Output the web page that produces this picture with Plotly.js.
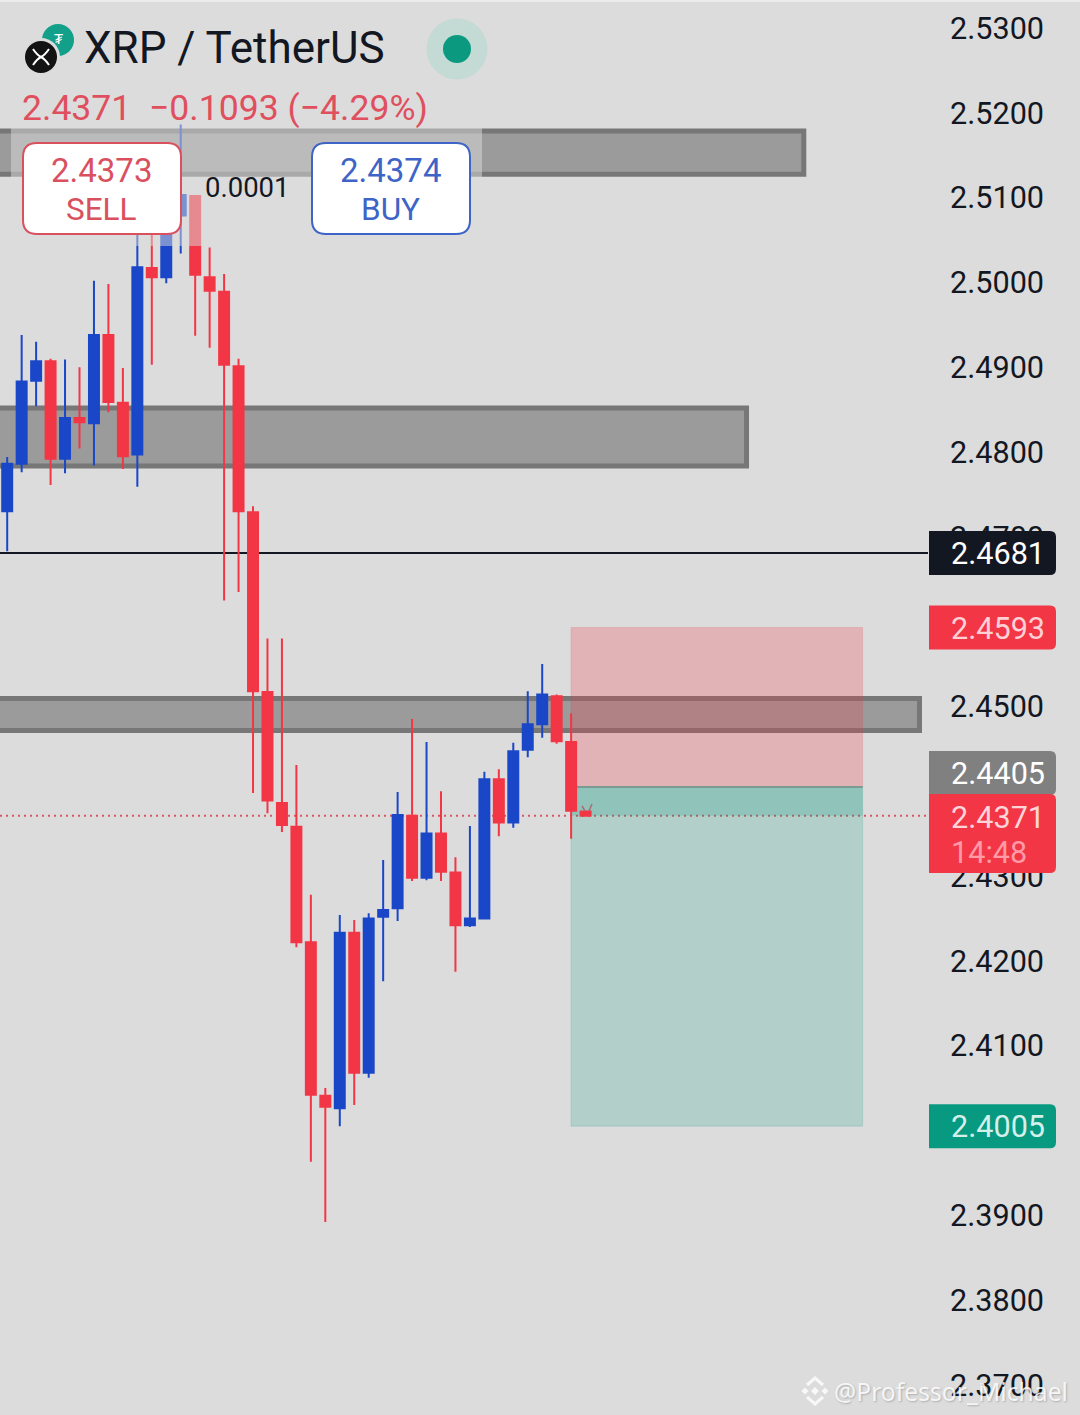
<!DOCTYPE html>
<html>
<head>
<meta charset="utf-8">
<script src="https://cdn.plot.ly/plotly-3.0.1.min.js"></script>
<style>html,body{margin:0;padding:0;background:#dcdcdc;overflow:hidden}</style>
</head>
<body>
<div id="chart" style="width:1080px;height:1415px"></div>
<script>
// ---- candle values ----
const openValues = [2.4730,2.4786,2.4884,2.4907,2.4792,2.4840,2.4834,2.4938,2.4858,2.4797,2.5017,2.5006,2.5079,2.5102,2.5006,2.4989,2.4901,2.4729,2.4517,2.4386,2.4358,2.4222,2.4041,2.4026,2.4233,2.4068,2.4252,2.4262,2.4371,2.4298,2.4350,2.4304,2.4242,2.4250,2.4414,2.4363,2.4449,2.4479,2.4512,2.4458,2.4376];
const closeValues = [2.4786,2.4883,2.4907,2.4792,2.4840,2.4835,2.4938,2.4859,2.4795,2.5018,2.5006,2.5079,2.5103,2.5009,2.4990,2.4903,2.4730,2.4518,2.4389,2.4360,2.4222,2.4042,2.4028,2.4233,2.4068,2.4250,2.4260,2.4372,2.4298,2.4350,2.4305,2.4242,2.4250,2.4414,2.4363,2.4447,2.4479,2.4514,2.4459,2.4377,2.4371];
const highValues  = [2.4794,2.4938,2.4930,2.4910,2.4909,2.4900,2.5002,2.4998,2.4899,2.5060,2.5060,2.5085,2.5186,2.5103,2.5041,2.5010,2.4910,2.4736,2.4580,2.4580,2.4431,2.4278,2.4050,2.4254,2.4248,2.4256,2.4319,2.4399,2.4485,2.4458,2.4400,2.4322,2.4359,2.4423,2.4426,2.4457,2.4518,2.4550,2.4514,2.4492,2.4376];
const lowValues   = [2.4683,2.4776,2.4854,2.4761,2.4775,2.4804,2.4784,2.4847,2.4780,2.4759,2.4903,2.4999,2.5034,2.4937,2.4923,2.4625,2.4635,2.4398,2.4374,2.4352,2.4216,2.3963,2.3892,2.4005,2.4030,2.4062,2.4176,2.4247,2.4294,2.4295,2.4294,2.4187,2.4240,2.4250,2.4347,2.4357,2.4440,2.4463,2.4456,2.4344,2.4371];
// 2.46, 2.44 and 2.40 sit fully behind price tags in the reference
const tickValues  = [2.53,2.52,2.51,2.50,2.49,2.48,2.47,2.45,2.43,2.42,2.41,2.39,2.38,2.37];
const zoneTop     = [2.51785,2.4852,2.45093];
const zoneBottom  = [2.51275,2.47835,2.44716];
const zoneEnd     = [55.09,51.13,63.09];
const stopPrice = 2.4593, entryPrice = 2.4405, targetPrice = 2.4005, lastPrice = 2.4371, crossPrice = 2.4681;

// ---- layout helpers ----
const PW = 928, PH = 1415;
const yMax = 2.53330, yMin = 2.36644, xMin = -0.498, xMax = 63.68;
const px = v => v / PW;
const py = v => 1 - v / PH;
const pricePx = p => (yMax - p) / (yMax - yMin) * PH;
const rect = (x0, y0, x1, y1, opts) => Object.assign({type:'rect', xref:'paper', yref:'paper', x0:px(x0), x1:px(x1), y0:py(y0), y1:py(y1), line:{width:0}, layer:'above'}, opts);
const circle = (cx, cy, r, color) => ({type:'circle', xref:'paper', yref:'paper', x0:px(cx-r), x1:px(cx+r), y0:py(cy-r), y1:py(cy+r), fillcolor:color, line:{width:0}, layer:'above'});
const P = (x, y) => px(x) + ',' + py(y);
function round(x0, y0, x1, y1, rl, rr) {
  return 'M' + P(x0+rl,y0) + ' L' + P(x1-rr,y0) + ' Q' + P(x1,y0) + ' ' + P(x1,y0+rr) + ' L' + P(x1,y1-rr) + ' Q' + P(x1,y1) + ' ' + P(x1-rr,y1) +
         ' L' + P(x0+rl,y1) + ' Q' + P(x0,y1) + ' ' + P(x0,y1-rl) + ' L' + P(x0,y0+rl) + ' Q' + P(x0,y0) + ' ' + P(x0+rl,y0) + ' Z';
}
const pathShape = (d, opts) => Object.assign({type:'path', xref:'paper', yref:'paper', path:d, layer:'above', line:{width:0}}, opts);
const dataRect = (x0, x1, p0, p1, fill, line) => ({type:'rect', xref:'x', yref:'y', x0, x1, y0:p0, y1:p1, fillcolor:fill, line, layer:'below'});
const hLine = (p, color, width, dash) => ({type:'line', xref:'x', yref:'y', x0:xMin, x1:xMax, y0:p, y1:p, line:{color, width, dash}, layer:'below'});

const BG = '#dcdcdc';
const posL = 38.99, posR = 59.16;
const shapes = [];
// zones
zoneTop.forEach((t,i) => shapes.push(dataRect(-5, zoneEnd[i], zoneBottom[i], t, '#9b9b9b', {color:'#777777', width:5})));
// level lines
shapes.push(hLine(crossPrice, '#131722', 2, 'solid'));
shapes.push(hLine(lastPrice, '#d95562', 2, '2px,4px'));
// position tool
shapes.push(dataRect(posL, posR, entryPrice, stopPrice, 'rgba(242,54,69,0.25)', {color:'rgba(242,54,69,0.15)', width:1}));
shapes.push(dataRect(posL, posR, targetPrice, entryPrice, 'rgba(8,153,129,0.2)', {color:'rgba(8,153,129,0.15)', width:1}));
shapes.push(dataRect(posL, posR, lastPrice, entryPrice, 'rgba(8,153,129,0.2)', {width:0}));
shapes.push({type:'line', xref:'x', yref:'y', x0:posL, x1:posR, y0:entryPrice, y1:entryPrice, line:{color:'#7c9a94', width:2}, layer:'below'});
// top edge
shapes.push(rect(0, 0, 1080, 2, {fillcolor:'#ebebeb'}));
// legend fade
shapes.push(rect(11, 125, 482, 246, {fillcolor:'rgba(220,220,220,0.5)'}));
// sell and buy boxes
shapes.push(pathShape(round(23, 143, 181, 234, 14, 14), {fillcolor:'#ffffff', line:{color:'#d9505f', width:2}}));
shapes.push(pathShape(round(312, 143, 470, 234, 14, 14), {fillcolor:'#ffffff', line:{color:'#3d64c6', width:2}}));
// header icons
shapes.push(circle(58, 40, 16, '#12a08a'));
shapes.push(circle(41, 57, 19, BG));
shapes.push(circle(41, 57, 16, '#131313'));
shapes.push(pathShape('M' + P(33,49) + ' Q' + P(37,55) + ' ' + P(41,57) + ' Q' + P(45,55) + ' ' + P(49,49) + ' M' + P(33,65) + ' Q' + P(37,59) + ' ' + P(41,57) + ' Q' + P(45,59) + ' ' + P(49,65), {fillcolor:'rgba(0,0,0,0)', line:{color:'#ffffff', width:2}}));
shapes.push(circle(457, 49, 30.5, '#c3dad5'));
shapes.push(circle(457, 49, 14, '#0b9a80'));
// cursor mark near the last candle
shapes.push(pathShape('M' + P(582,806) + ' L' + P(585,811) + ' M' + P(592,804) + ' L' + P(589,811), {fillcolor:'rgba(0,0,0,0)', line:{color:'#b06a70', width:1.5}}));
// price tags
function tag(y0, y1, color) { shapes.push(pathShape(round(929, y0, 1056, y1, 0, 6), {fillcolor:color})); }
const tagY = p => pricePx(p);
tag(tagY(crossPrice)-22, tagY(crossPrice)+22, '#131722');
tag(tagY(stopPrice)-22, tagY(stopPrice)+22, '#f23645');
tag(tagY(entryPrice)-36, tagY(entryPrice)+8, '#808080');
tag(794, 873, '#f23645');
tag(tagY(targetPrice)-22, tagY(targetPrice)+22, '#089981');
// watermark logo
const wm = 'rgba(255,255,255,0.8)';
const diamond = (cx, cy, r) => pathShape('M' + P(cx-r,cy) + ' L' + P(cx,cy-r) + ' L' + P(cx+r,cy) + ' L' + P(cx,cy+r) + ' Z', {fillcolor:wm});
shapes.push(diamond(815,1391,4), diamond(805,1391,3.5), diamond(825,1391,3.5));
shapes.push(pathShape('M' + P(807,1385) + ' L' + P(815,1378) + ' L' + P(823,1385), {fillcolor:'rgba(0,0,0,0)', line:{color:wm, width:3}}));
shapes.push(pathShape('M' + P(807,1397) + ' L' + P(815,1404) + ' L' + P(823,1397), {fillcolor:'rgba(0,0,0,0)', line:{color:wm, width:3}}));

// ---- text ----
const F = 'Roboto, sans-serif';
const note = (text, x, y, size, color, extra) => Object.assign({text, xref:'paper', yref:'paper', x:px(x), y:py(y), xanchor:'left', yanchor:'middle', align:'left', showarrow:false, borderpad:0, font:{family:F, size, color}}, extra);
const center = {xanchor:'center', align:'center'};
const LBL = 30.6, LBLX = 949.5;
const annotations = [
  note('XRP / TetherUS', 83, 48, 44, '#131722'),
  note('₮', 58, 39, 15, '#ffffff', center),
  note('2.4371', 21, 108, 35.6, '#e04f5e'),
  note('−0.1093 (−4.29%)', 148, 108, 35.6, '#e04f5e'),
  note('2.4373', 101.5, 170.5, 33, '#d9505f', center),
  note('SELL', 101.5, 210, 31.5, '#d9505f', center),
  note('2.4374', 390.5, 170.5, 33, '#3d64c6', center),
  note('BUY', 390.5, 210, 31.5, '#3d64c6', center),
  note('0.0001', 204, 187.5, 27.5, '#131722'),
  note(crossPrice.toFixed(4), LBLX, tagY(crossPrice)+1, LBL, '#ffffff'),
  note(stopPrice.toFixed(4), LBLX, tagY(stopPrice)+1, LBL, '#ffd0d5'),
  note(entryPrice.toFixed(4), LBLX, 773.5, LBL, '#ffffff'),
  note(lastPrice.toFixed(4), LBLX, 817, LBL, '#ffd5da'),
  note('14:48', LBLX, 852, LBL, '#ff9aa6'),
  note(targetPrice.toFixed(4), LBLX, tagY(targetPrice)+0.5, LBL, '#d5efe9'),
  note('@Professor_Michael', 833, 1391, 24.7, 'rgba(255,255,255,0.85)', {font:{family:'"Noto Sans", sans-serif', size:24.7, color:'rgba(255,255,255,0.85)', shadow:'1px 1px 2px rgba(0,0,0,0.25)'}})
];

const trace = {
  type:'candlestick',
  x: openValues.map((_, i) => i),
  open: openValues, high: highValues, low: lowValues, close: closeValues,
  increasing:{line:{color:'#1a47c8', width:2}, fillcolor:'#1a47c8'},
  decreasing:{line:{color:'#f23645', width:2}, fillcolor:'#f23645'},
  whiskerwidth:0, hoverinfo:'skip', showlegend:false
};
const layout = {
  width:1080, height:1415, autosize:false,
  margin:{l:0, r:152, t:0, b:0, pad:0},
  paper_bgcolor:BG, plot_bgcolor:BG,
  showlegend:false, boxgap:0.31, boxgroupgap:0,
  xaxis:{range:[xMin,xMax], visible:false, fixedrange:true, type:'linear', rangeslider:{visible:false}},
  yaxis:{range:[yMin,yMax], side:'right', tickvals:tickValues, ticktext:tickValues.map(v => v.toFixed(4)),
         showgrid:false, zeroline:false, showline:false, ticks:'', ticklabelstandoff:21, automargin:false,
         tickfont:{family:F, size:LBL, color:'#131722'}, fixedrange:true},
  shapes, annotations
};
Plotly.newPlot('chart', [trace], layout, {displayModeBar:false, staticPlot:true});
</script>
</body>
</html>
